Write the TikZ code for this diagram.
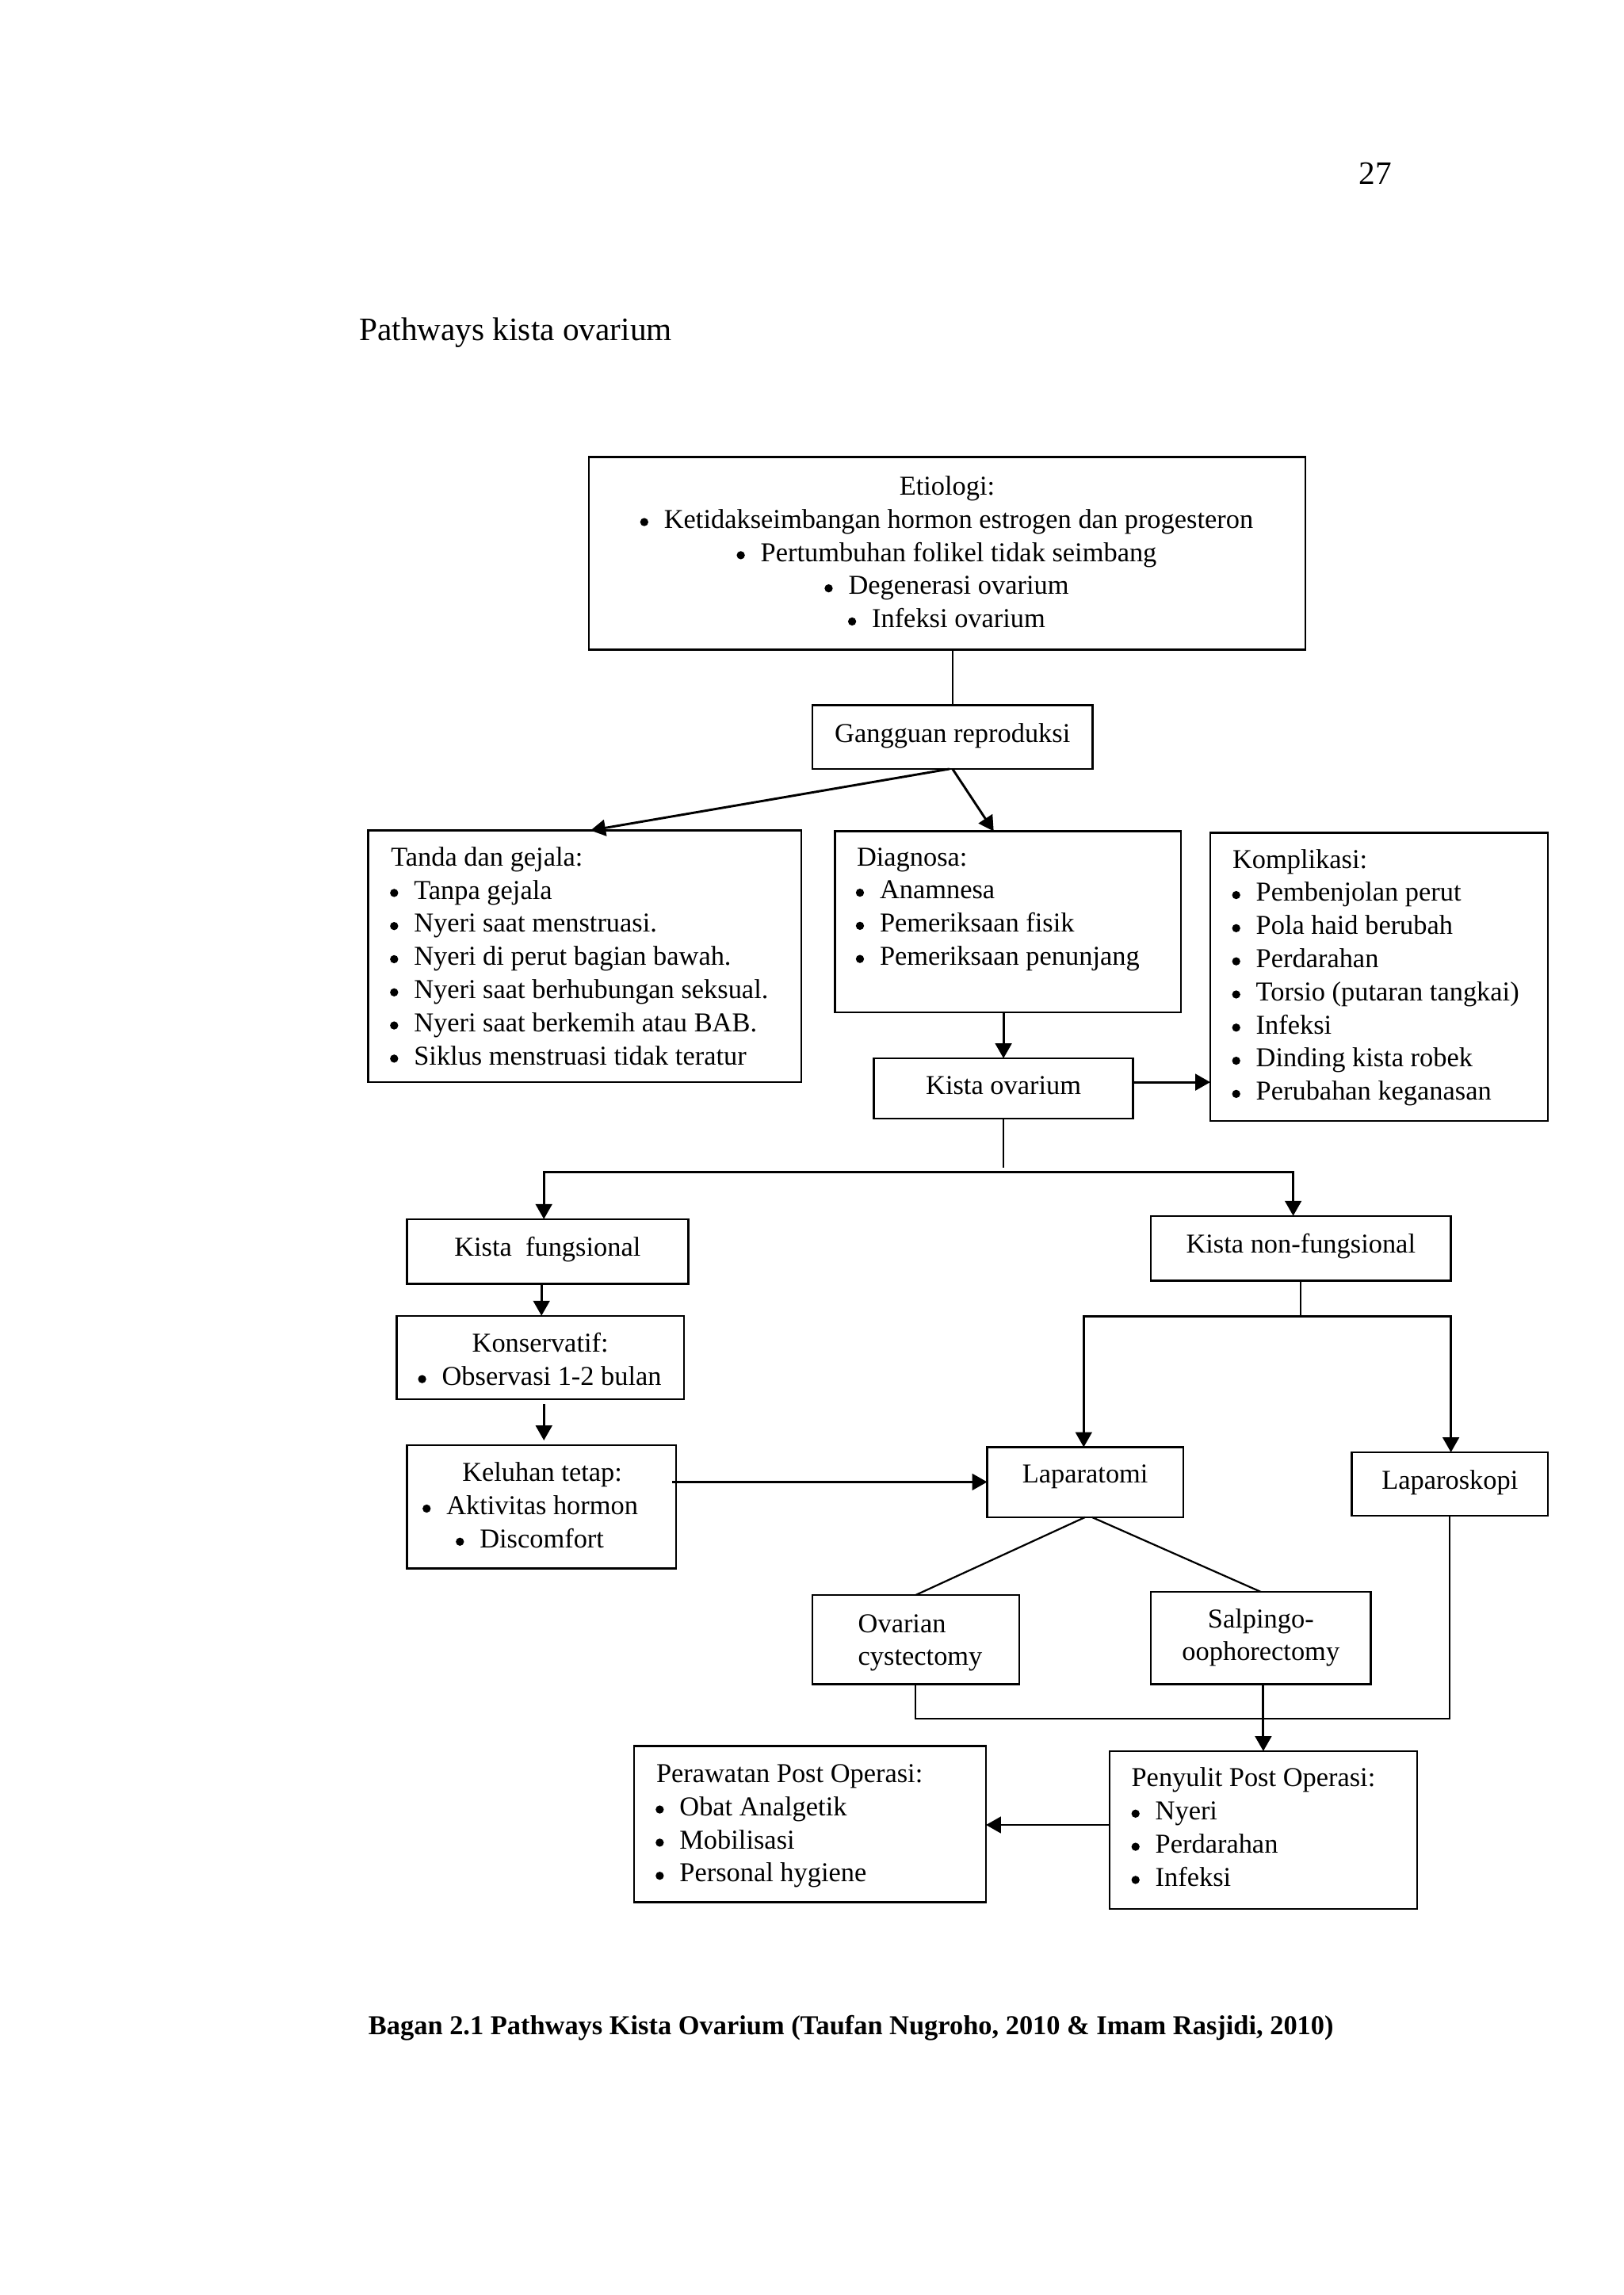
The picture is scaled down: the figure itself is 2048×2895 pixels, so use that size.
\documentclass[tikz,border=0pt]{standalone}
\usepackage{fontspec}
\setmainfont{Liberation Serif}
\usetikzlibrary{arrows.meta,calc}
\newlength\pxu
\setlength\pxu{0.29067pt}
\newcommand\stt{\rule[-3.645pt]{0pt}{12.15pt}}
\newcommand\bul{\makebox[29\pxu][l]{\hspace*{-0.34pt}\tikz[baseline=0pt]\fill (0pt,2.25pt) circle[radius=1.5pt];}}
\newcommand\bxx[4]{\begin{minipage}[t][#2\pxu][t]{#1\pxu}\fontsize{10pt}{12.15pt}\selectfont\vspace*{\dimexpr #3\pxu-8.505pt\relax}#4\end{minipage}}
\newcommand\lnL[2]{\hspace*{#1\pxu}\stt#2\par}
\newcommand\lnC[1]{\stt#1\par}
\begin{document}
\begin{tikzpicture}[x=0.29067pt, y=-0.29067pt,
  pbox/.style={draw, line width=0.7pt, inner sep=0pt, outer sep=0pt, anchor=north west},
  plain/.style={line width=0.65pt},
  thinl/.style={line width=0.5pt},
  arr/.style={line width=0.85pt, -{Triangle[length=5.5pt,width=6pt]}},
  arrb/.style={line width=0.85pt, {Triangle[length=5.5pt,width=6pt]}-{Triangle[length=5.5pt,width=6pt]}}]
\path[fill=white] (0,0) rectangle (2048,2895);

% page texts
\node[anchor=base east, inner sep=0pt, font=\fontsize{12pt}{14pt}\selectfont] (pg) at (1756.5,232) {27};
\node[anchor=base west, inner sep=0pt, font=\fontsize{12pt}{14pt}\selectfont] (title) at (452.6,429) {Pathways kista ovarium};
\node[anchor=base west, inner sep=0pt, font=\fontsize{10pt}{12pt}\selectfont\bfseries] (cap) at (464.3,2566) {Bagan 2.1 Pathways Kista Ovarium (Taufan Nugroho, 2010 \& Imam Rasjidi, 2010)};

% boxes
\node[pbox] (etio) at (743,576.5) {\bxx{904}{243}{48}{\centering
  \lnC{Etiologi:}
  \lnC{\bul Ketidakseimbangan hormon estrogen dan progesteron}
  \lnC{\bul Pertumbuhan folikel tidak seimbang}
  \lnC{\bul Degenerasi ovarium}
  \lnC{\bul Infeksi ovarium}}};

\node[pbox] (gang) at (1025,889.3) {\bxx{353.6}{80.7}{46.7}{\centering
  \lnC{Gangguan reproduksi}}};

\node[pbox] (tanda) at (464.3,1047.5) {\bxx{546.7}{317.5}{44.8}{\raggedright
  \lnL{29}{Tanda dan gejala:}
  \lnL{29}{\bul Tanpa gejala}
  \lnL{29}{\bul Nyeri saat menstruasi.}
  \lnL{29}{\bul Nyeri di perut bagian bawah.}
  \lnL{29}{\bul Nyeri saat berhubungan seksual.}
  \lnL{29}{\bul Nyeri saat berkemih atau BAB.}
  \lnL{29}{\bul Siklus menstruasi tidak teratur}}};

\node[pbox] (diag) at (1053.6,1048.5) {\bxx{436.2}{228.5}{43.5}{\raggedright
  \lnL{27.4}{Diagnosa:}
  \lnL{27.4}{\bul Anamnesa}
  \lnL{27.4}{\bul Pemeriksaan fisik}
  \lnL{27.4}{\bul Pemeriksaan penunjang}}};

\node[pbox] (komp) at (1527,1050.5) {\bxx{426}{363.3}{44.5}{\raggedright
  \lnL{28}{Komplikasi:}
  \lnL{28.7}{\bul Pembenjolan perut}
  \lnL{28.7}{\bul Pola haid berubah}
  \lnL{28.7}{\bul Perdarahan}
  \lnL{28.7}{\bul Torsio (putaran tangkai)}
  \lnL{28.7}{\bul Infeksi}
  \lnL{28.7}{\bul Dinding kista robek}
  \lnL{28.7}{\bul Perubahan keganasan}}};

\node[pbox] (kista) at (1102.6,1335) {\bxx{327}{76.2}{45}{\centering
  \lnC{Kista ovarium}}};

\node[pbox] (kfung) at (513.3,1537.8) {\bxx{355}{81.6}{46.9}{\centering
  \lnC{Kista\ \ fungsional}}};

\node[pbox] (knon) at (1452,1533.7) {\bxx{378.6}{81.6}{46.9}{\centering
  \lnC{Kista non-fungsional}}};

\node[pbox] (kons) at (500.5,1659.7) {\bxx{362.3}{105.1}{45.9}{\centering
  \lnC{Konservatif:}
  \lnC{\bul Observasi 1-2 bulan}}};

\node[pbox] (kel) at (513.3,1823) {\bxx{339.7}{155.6}{45.9}{\raggedright
  \lnL{70}{Keluhan tetap:}
  \lnL{21}{\bul Aktivitas hormon}
  \lnL{63}{\bul Discomfort}}};

\node[pbox] (lapt) at (1245.5,1825.5) {\bxx{247.4}{88.3}{44.9}{\centering
  \lnC{Laparatomi}}};

\node[pbox] (lapk) at (1705.6,1832) {\bxx{247.4}{80.2}{46}{\centering
  \lnC{Laparoskopi}}};

\node[pbox] (ovar) at (1025,2012) {\bxx{260.7}{112.5}{47}{\raggedright
  \lnL{57.7}{Ovarian}
  \lnL{57.7}{cystectomy}}};

\node[pbox] (salp) at (1452,2008) {\bxx{277.6}{116.5}{45}{\centering
  \lnC{Salpingo-}
  \lnC{oophorectomy}}};

\node[pbox] (pera) at (800,2202.5) {\bxx{444}{196.8}{46}{\raggedright
  \lnL{28}{Perawatan Post Operasi:}
  \lnL{28.4}{\bul Obat Analgetik}
  \lnL{28.4}{\bul Mobilisasi}
  \lnL{28.4}{\bul Personal hygiene}}};

\node[pbox] (peny) at (1400,2208.9) {\bxx{387.8}{198.8}{44.8}{\raggedright
  \lnL{27.6}{Penyulit Post Operasi:}
  \lnL{28.7}{\bul Nyeri}
  \lnL{28.7}{\bul Perdarahan}
  \lnL{28.7}{\bul Infeksi}}};

% connectors
\draw[thinl] (gang.north) -- (gang.north |- etio.south);
\draw[arr] ($(gang.south)+(-4,0)$) -- ($(tanda.north)+(7.4,0)$);
\draw[arr] (gang.south) -- ($(diag.north)+(-18,0)$);
\draw[arr] (kista.north |- diag.south) -- (kista.north);
\coordinate (kR) at ($(kista.east)+(0,-8)$);
\draw[arr] (kR) -- (kR -| komp.west);

\draw[plain] (kista.south) -- ++(0,61.5);
\coordinate (hbL) at (686.2,1478.6);
\coordinate (hbR) at (1631.6,1478.6);
\draw[arrb] (hbL |- kfung.north) -- (hbL) -- (hbR) -- (hbR |- knon.north);

\coordinate (c1) at ($(kfung.south)+(-7.6,0)$);
\draw[arr] (c1) -- (c1 |- kons.north);
\coordinate (c2) at ($(kons.south)+(4.6,6)$);
\draw[arr] (c2) -- ($(c2 |- kel.north)+(0,-6)$);
\coordinate (c3) at ($(kel.north east)+(-5,46.4)$);
\draw[arr] (c3) -- (c3 -| lapt.west);

\draw[plain] (knon.south) -- ++(0,44.9);
\coordinate (sL) at (1367.3,1660.2);
\coordinate (sR) at (1830.6,1660.2);
\draw[arrb] (sL |- lapt.north) -- (sL) -- (sR) -- (sR |- lapk.north);

\draw[plain] (lapt.south) -- (ovar.north);
\draw[plain] ($(lapt.south)+(8.4,0)$) -- (salp.north);

\coordinate (bmy) at (0,2168);
\draw[plain] (ovar.south) |- (lapk.south |- bmy) -- (lapk.south);
\draw[arr] (peny.north |- salp.south) -- (peny.north);
\coordinate (c5) at ($(peny.west)+(0,-6.3)$);
\draw[arr] (c5) -- (c5 -| pera.east);
\end{tikzpicture}
\end{document}
